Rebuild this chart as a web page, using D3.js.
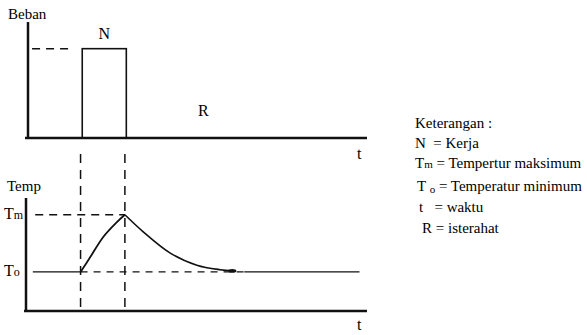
<!DOCTYPE html>
<html>
<head>
<meta charset="utf-8">
<script src="https://cdn.jsdelivr.net/npm/d3@7"></script>
<style>
  body { margin: 0; background: #fff; }
</style>
</head>
<body>
<div id="graph"></div>
<script>
// work period (N) on the time axis, 0..100
const workPeriod = [16, 29];
// load level during work (Beban), 0..10
const loadLevel = [7.7];
// temperature levels, 0..10
const tempLevels = { To: 3.4, Tm: 8.5 };
// temperature curve: rise while working, fall while resting
const tempRise = [
    { t: 16, v: 3.4 },
    { t: 18.8, v: 4.7 },
    { t: 22.6, v: 6.5 },
    { t: 26.5, v: 7.8 },
    { t: 29, v: 8.5 }
];
const tempFall = [
    { t: 29, v: 8.5 },
    { t: 34.3, v: 7.0 },
    { t: 42.2, v: 5.1 },
    { t: 50.1, v: 4.0 },
    { t: 56.9, v: 3.6 },
    { t: 60.7, v: 3.5 }
];
const legendLines = [
    "Keterangan :",
    "N  = Kerja",
    "Tm = Tempertur maksimum",
    "To = Temperatur minimum",
    "t   = waktu",
    "R = isterahat"
];

const W = 587, H = 335;
const svg = d3.select("#graph").append("svg")
    .attr("width", W).attr("height", H)
    .attr("font-family", "'Liberation Serif', Tinos, 'DejaVu Serif', serif");

const ink = "#111";

// ---- top panel: Beban ----
const xTop = d3.scaleLinear().domain([0, 100]).range([28, 367]);
const yTop = d3.scaleLinear().domain([0, 10]).range([138, 22]);

// axes
svg.append("line")
    .attr("x1", xTop(0)).attr("x2", xTop(0))
    .attr("y1", yTop(10)).attr("y2", yTop(0) + 1)
    .attr("stroke", ink).attr("stroke-width", 2.5);
svg.append("line")
    .attr("x1", xTop(0) - 3).attr("x2", xTop(100))
    .attr("y1", yTop(0)).attr("y2", yTop(0))
    .attr("stroke", ink).attr("stroke-width", 2.5);

// dashed level to the load
svg.append("line")
    .attr("x1", xTop(1.2)).attr("x2", xTop(13))
    .attr("y1", yTop(loadLevel[0])).attr("y2", yTop(loadLevel[0]))
    .attr("stroke", ink).attr("stroke-width", 1.5)
    .attr("stroke-dasharray", "8 6");

// work block
svg.append("rect")
    .attr("x", xTop(workPeriod[0]))
    .attr("y", yTop(loadLevel[0]))
    .attr("width", xTop(workPeriod[1]) - xTop(workPeriod[0]))
    .attr("height", yTop(0) - yTop(loadLevel[0]))
    .attr("fill", "none").attr("stroke", ink).attr("stroke-width", 1.6);

svg.append("text").attr("x", 8).attr("y", 19).attr("font-size", 15).text("Beban");
svg.append("text").attr("x", (xTop(workPeriod[0]) + xTop(workPeriod[1])) / 2).attr("y", 39)
    .attr("text-anchor", "middle").attr("font-size", 16).text("N");
svg.append("text").attr("x", 198).attr("y", 116).attr("font-size", 16).text("R");
svg.append("text").attr("x", 357).attr("y", 159).attr("font-size", 16).text("t");

// ---- bottom panel: Temp ----
const xBot = d3.scaleLinear().domain([0, 100]).range([26, 367]);
const yBot = d3.scaleLinear().domain([0, 10]).range([310, 198]);

// vertical dashed guides from work period
workPeriod.forEach(t => {
    svg.append("line")
        .attr("x1", xBot(t)).attr("x2", xBot(t))
        .attr("y1", 154).attr("y2", 308)
        .attr("stroke", ink).attr("stroke-width", 1.5)
        .attr("stroke-dasharray", "9 7");
});

svg.append("line")
    .attr("x1", xBot(0)).attr("x2", xBot(0))
    .attr("y1", yBot(10)).attr("y2", yBot(0) + 1)
    .attr("stroke", ink).attr("stroke-width", 2.5);
svg.append("line")
    .attr("x1", xBot(0) - 2).attr("x2", xBot(100))
    .attr("y1", yBot(-0.1)).attr("y2", yBot(-0.1))
    .attr("stroke", ink).attr("stroke-width", 2.5);

// Tm dashed
svg.append("line")
    .attr("x1", xBot(2.7)).attr("x2", xBot(workPeriod[1]))
    .attr("y1", yBot(tempLevels.Tm)).attr("y2", yBot(tempLevels.Tm))
    .attr("stroke", ink).attr("stroke-width", 1.5)
    .attr("stroke-dasharray", "8 6");

// To line: solid, dashed, solid
const yTo = yBot(tempLevels.To);
svg.append("line")
    .attr("x1", xBot(2)).attr("x2", xBot(workPeriod[0]))
    .attr("y1", yTo).attr("y2", yTo)
    .attr("stroke", ink).attr("stroke-width", 1.3);
svg.append("line")
    .attr("x1", xBot(workPeriod[0])).attr("x2", xBot(64))
    .attr("y1", yTo).attr("y2", yTo)
    .attr("stroke", ink).attr("stroke-width", 1.3)
    .attr("stroke-dasharray", "7 6");
svg.append("line")
    .attr("x1", xBot(64)).attr("x2", xBot(97.8))
    .attr("y1", yTo).attr("y2", yTo)
    .attr("stroke", ink).attr("stroke-width", 1.3);

// temperature curve
const line = d3.line()
    .x(d => xBot(d.t))
    .y(d => yBot(d.v))
    .curve(d3.curveCatmullRom);
svg.append("path").datum(tempRise).attr("d", line)
    .attr("fill", "none").attr("stroke", ink).attr("stroke-width", 1.8);
svg.append("path").datum(tempFall).attr("d", line)
    .attr("fill", "none").attr("stroke", ink).attr("stroke-width", 1.6);
// small ink blob where the curve meets To
svg.append("ellipse")
    .attr("cx", xBot(60.5)).attr("cy", yTo - 1)
    .attr("rx", 4).attr("ry", 1.8).attr("fill", ink);

svg.append("text").attr("x", 7).attr("y", 191).attr("font-size", 15).text("Temp");
const tmLabel = svg.append("text").attr("x", 4).attr("y", 219).attr("font-size", 16);
tmLabel.append("tspan").text("T");
tmLabel.append("tspan").attr("font-size", 12).text("m");
const toLabel = svg.append("text").attr("x", 4).attr("y", 276).attr("font-size", 16);
toLabel.append("tspan").text("T");
toLabel.append("tspan").attr("font-size", 12).text("o");
svg.append("text").attr("x", 357).attr("y", 330).attr("font-size", 16).text("t");

// ---- legend ----
const legendY = [128, 148, 168, 191, 212, 233];
const legendX = [415, 415, 415, 417, 419, 422];
const legend = svg.append("g").attr("font-size", 15);
legendLines.forEach((s, i) => {
    const txt = legend.append("text")
        .attr("x", legendX[i]).attr("y", legendY[i])
        .attr("xml:space", "preserve");
    if (i === 2) {
        txt.append("tspan").text("T");
        txt.append("tspan").attr("font-size", 11).text("m");
        txt.append("tspan").text(" = Tempertur maksimum");
    } else if (i === 3) {
        txt.append("tspan").text("T ");
        txt.append("tspan").attr("font-size", 11).attr("dy", 2).text("o");
        txt.append("tspan").attr("dy", -2).text(" = Temperatur minimum");
    } else {
        txt.text(s);
    }
});
</script>
</body>
</html>
